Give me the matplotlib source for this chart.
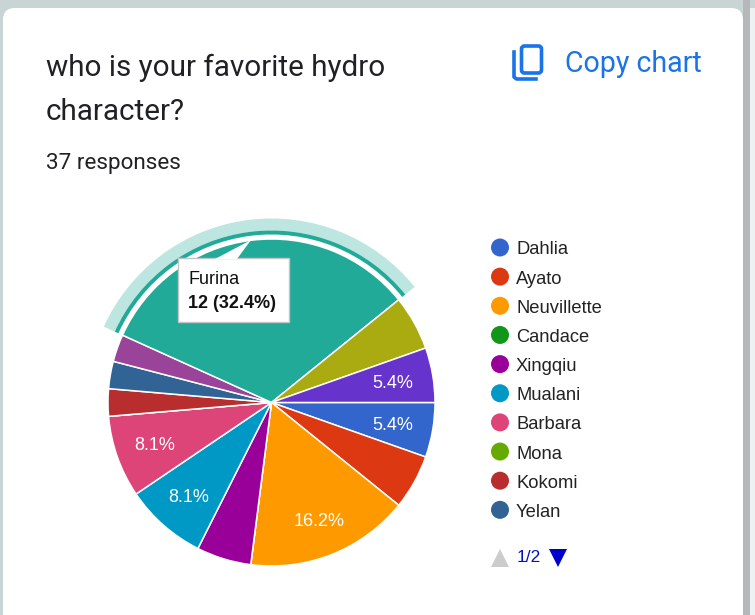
import matplotlib
matplotlib.use("Agg")
import matplotlib.pyplot as plt
from matplotlib.patches import Wedge, FancyBboxPatch, Circle, Polygon, Rectangle

# slices run clockwise from 3 o'clock, only page 1 of the legend is readable
names = ["Dahlia", "Ayato", "Neuvillette", "Candace", "Xingqiu", "Mualani",
         "Barbara", "Mona", "Kokomi", "Yelan", "", "Furina", "", ""]
counts = [2, 2, 6, 0, 2, 3, 3, 0, 1, 1, 1, 12, 2, 2]
colors = ["#3366cc", "#dc3912", "#ff9900", "#109618", "#990099", "#0099c6",
          "#dd4477", "#66aa00", "#b82e2e", "#316395", "#994499", "#22aa99",
          "#aaaa11", "#6633cc"]
legend_names = names[:10]
total = sum(counts)

W, H = 755, 615
plt.rcParams['font.family'] = ['Liberation Sans', 'DejaVu Sans']
fig = plt.figure(figsize=(W / 100, H / 100), dpi=100)
fig.patch.set_facecolor("#c9d4d5")
ax = fig.add_axes([0, 0, 1, 1])


def Y(y):
    # picture coordinates are measured from the top
    return H - y


cx, cy, R = 271.5, 402.5, 163.5

# white card, grey strip and pale margin on the right
ax.add_patch(Rectangle((750, 0), 5, H - 8, fc="#eef1f2", ec="none", zorder=1))
ax.add_patch(Rectangle((743, 0), 7, H, fc="#b4b8b8", ec="none", zorder=1))
ax.add_patch(FancyBboxPatch((3 + 12, Y(640) + 12), 740 - 24, 632 - 24,
                            boxstyle="round,pad=12,rounding_size=12",
                            fc="white", ec="none", zorder=1))

# pie
wedges, _ = ax.pie(counts, colors=colors, startangle=0, counterclock=False,
                   center=(cx, Y(cy)), radius=R,
                   wedgeprops=dict(edgecolor="white", linewidth=1.1, zorder=2))

# highlight rings round Furina
start = -360 * sum(counts[:12]) / total
end = -360 * sum(counts[:11]) / total
ax.add_patch(Wedge((cx, Y(cy)), 184, start, end, width=12, fc="#bde6e0", ec="none", zorder=2))
ax.add_patch(Wedge((cx, Y(cy)), 172, start, end, width=4, fc="#22aa99", ec="none", zorder=3))

# percent labels, only slices big enough get one
label_pos = {0: (393, 425), 2: (319, 522), 5: (189, 498), 6: (155, 446), 13: (393, 384)}
for i, (x, y) in label_pos.items():
    ax.text(x, Y(y), f"{100 * counts[i] / total:.1f}%", color="white", fontsize=13,
            ha="center", va="center", zorder=4)

# tooltip
ax.add_patch(Rectangle((178, Y(322)), 111, 64, fc="white", ec="#c4c4c4", lw=1, zorder=5))
ax.add_patch(Polygon([(215, Y(259)), (251, Y(240)), (237, Y(259))], closed=True, fc="white", ec="none", zorder=6))
ax.text(188, Y(279), "Furina", fontsize=13, color="#111111", va="center", zorder=6)
ax.text(188, Y(303), f"{counts[11]} ({100 * counts[11] / total:.1f}%)", fontsize=13,
        fontweight="bold", color="#111111", va="center", zorder=6)

# legend
for i, name in enumerate(legend_names):
    y = 247.5 + i * 29.15
    ax.add_patch(Circle((500, Y(y)), 9, fc=colors[i], ec="none", zorder=3))
    ax.text(516, Y(y + 0.5), name, fontsize=13.2, color="#222222", va="center_baseline", zorder=3)

# legend pager
ax.add_patch(Polygon([(491, Y(567)), (509, Y(567)), (500, Y(549))], closed=True, fc="#cccccc", ec="none", zorder=3))
ax.text(517, Y(558), "1/2", fontsize=12.5, color="#0011cc", va="center", zorder=3)
ax.add_patch(Polygon([(549, Y(549)), (567, Y(549)), (558, Y(567))], closed=True, fc="#0000cc", ec="none", zorder=3))

# heading
ax.text(46, Y(68), "who is your favorite hydro", fontsize=21.3, family="Roboto", color="#202124", va="center")
ax.text(46, Y(112), "character?", fontsize=21.3, family="Roboto", color="#202124", va="center")
ax.text(46, Y(164), f"{total} responses", fontsize=16.2, family="Roboto", color="#202124", va="center")

# copy chart button
blue = "#1a73e8"
ax.add_patch(FancyBboxPatch((521.5, Y(73)), 20, 27, boxstyle="round,pad=0,rounding_size=3",
                            fc="none", ec=blue, lw=2.6, zorder=3))
ax.plot([514, 514, 516.5, 536], [Y(52), Y(77), Y(79), Y(79)], color=blue, lw=2.6, zorder=3)
ax.text(565, Y(63.5), "Copy chart", fontsize=20.6, family="Roboto", color=blue, va="center")

ax.set_xlim(0, W)
ax.set_ylim(0, H)
ax.set_aspect("auto")
ax.axis("off")
fig.savefig("out.png", dpi=100, facecolor=fig.get_facecolor())
